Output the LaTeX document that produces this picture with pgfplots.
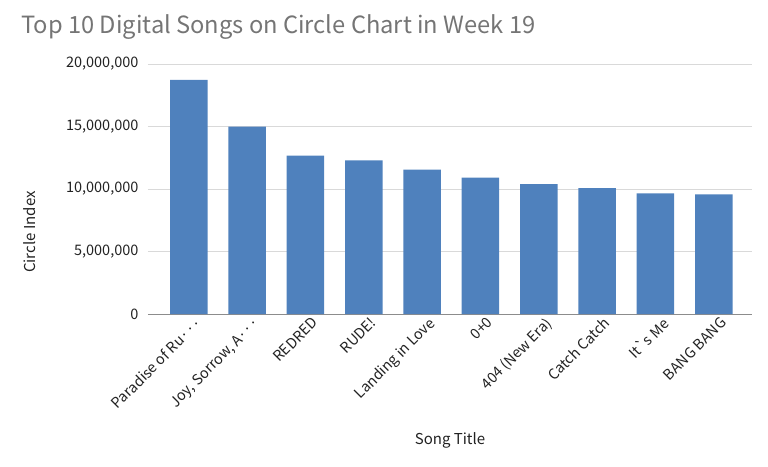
\documentclass[border=0pt]{standalone}
\usepackage{pgfplots}
\pgfplotsset{compat=1.18}
\usepackage{fontspec}
\setmainfont{Noto Sans CJK KR}

\definecolor{barblue}{RGB}{79,129,189}
\definecolor{gridgray}{RGB}{217,217,217}
\definecolor{basegray}{RGB}{140,140,140}
\definecolor{titlegray}{RGB}{117,117,117}
\definecolor{ticktext}{RGB}{34,34,34}

\begin{document}
\begin{tikzpicture}[x=1pt,y=1pt]
  % frame of the whole chart: axis corner (0,0) sits at pixel (148,314)
  \useasboundingbox (-148,-152) rectangle (620,314);
  \begin{axis}[
    at={(0,0)}, anchor=south west,
    scale only axis,
    width=604pt, height=250pt,
    ybar,
    bar width=0.643,
    xmin=-0.70, xmax=9.655,
    ymin=0, ymax=20000000,
    scaled y ticks=false,
    xtick=data,
    xticklabels={Paradise of Ru···, {Joy, Sorrow, A···}, REDRED, RUDE!, Landing in Love, 0+0, 404 (New Era), Catch Catch, It\textasciigrave s Me, BANG BANG},
    ytick={0,5000000,10000000,15000000,20000000},
    yticklabels={0,{5,000,000},{10,000,000},{15,000,000},{20,000,000}},
    axis y line*=left,
    y axis line style={draw=none},
    axis x line*=bottom,
    x axis line style={-, draw=basegray, line width=1pt},
    major tick length=0pt,
    ymajorgrids,
    grid style={draw=gridgray, line width=0.8pt},
    tick label style={font=\fontsize{14.5}{16}\selectfont, text=ticktext},
    yticklabel style={xshift=-6pt},
    xticklabel style={rotate=45, anchor=north east, xshift=6pt, yshift=-2pt},
    clip=false,
  ]
    \addplot[fill=barblue, draw=none] coordinates {
      (0, 18740000)
      (1, 15000000)
      (2, 12670000)
      (3, 12300000)
      (4, 11550000)
      (5, 10910000)
      (6, 10400000)
      (7, 10080000)
      (8, 9650000)
      (9, 9570000)
    };
  \end{axis}
  \node[anchor=west, text=titlegray, font=\fontsize{23.7}{28}\selectfont] at (-130,287) {Top 10 Digital Songs on Circle Chart in Week 19};
  \node[rotate=90, text=ticktext, font=\fontsize{15}{17}\selectfont] at (-118,82) {Circle Index};
  \node[text=ticktext, font=\fontsize{15}{17}\selectfont] at (302,-126) {Song Title};
\end{tikzpicture}
\end{document}
